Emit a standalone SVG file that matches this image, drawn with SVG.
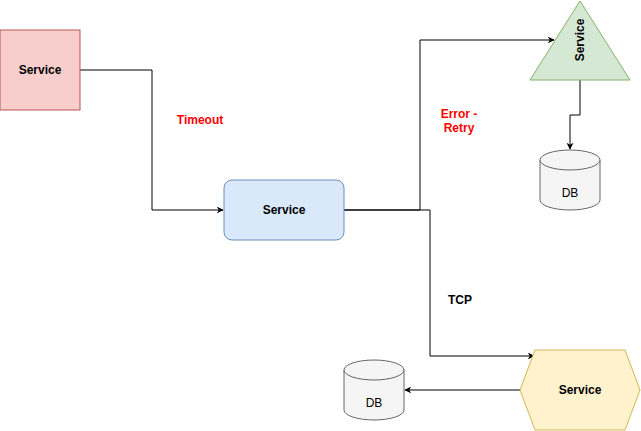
<svg xmlns="http://www.w3.org/2000/svg" width="641" height="431" viewBox="0 0 641 431">
<style>
text{font-family:"Liberation Sans",Arial,sans-serif;font-size:12px;text-anchor:middle;dominant-baseline:central}
.b{font-weight:bold}
.red{fill:#ff0000;font-weight:bold}
.e{fill:none;stroke:#000;stroke-width:1;marker-end:url(#a)}
.db{fill:#f5f5f5;stroke:#666}
</style>
<defs><marker id="a" viewBox="0 0 10 10" refX="9" refY="5" markerWidth="7" markerHeight="7" orient="auto"><path d="M0,0L10,5L0,10L3,5z" fill="#000"/></marker></defs>
<g id="connectors">
<path class="e" d="M80,70H152V210H223"/>
<path class="e" d="M344,210H420V40H554"/>
<path class="e" d="M344,210H430V356H534"/>
<path class="e" d="M580,80V115H570V149"/>
<path class="e" d="M520,390H405"/>
<text class="red" x="200" y="120">Timeout</text>
<text class="red" x="459" y="114">Error -</text>
<text class="red" x="459" y="128">Retry</text>
<text class="b" x="460" y="300">TCP</text>
</g>
<g id="s1"><rect x="0" y="30" width="80" height="80" fill="#f8cecc" stroke="#b85450"/><text class="b" x="40" y="70">Service</text></g>
<g id="s2"><rect x="224" y="180" width="120" height="60" rx="8" fill="#dae8fc" stroke="#6c8ebf"/><text class="b" x="284" y="210">Service</text></g>
<g id="s3"><path d="M580,1L630,80H530z" fill="#d5e8d4" stroke="#82b366"/><text class="b" transform="translate(580,40) rotate(-90)">Service</text></g>
<g id="db1"><path class="db" d="M540,160V200A30,10 0 0 0 600,200V160A30,10 0 0 0 540,160z"/><path class="db" d="M540,160A30,10 0 0 0 600,160" fill="none"/><text x="570" y="193">DB</text></g>
<g id="db2"><path class="db" d="M344,370V410A30,10 0 0 0 404,410V370A30,10 0 0 0 344,370z"/><path class="db" d="M344,370A30,10 0 0 0 404,370" fill="none"/><text x="374" y="403">DB</text></g>
<g id="s4"><path d="M535,350H625L640,390L625,430H535L520,390z" fill="#fff2cc" stroke="#d6b656"/><text class="b" x="580" y="390">Service</text></g>
</svg>
